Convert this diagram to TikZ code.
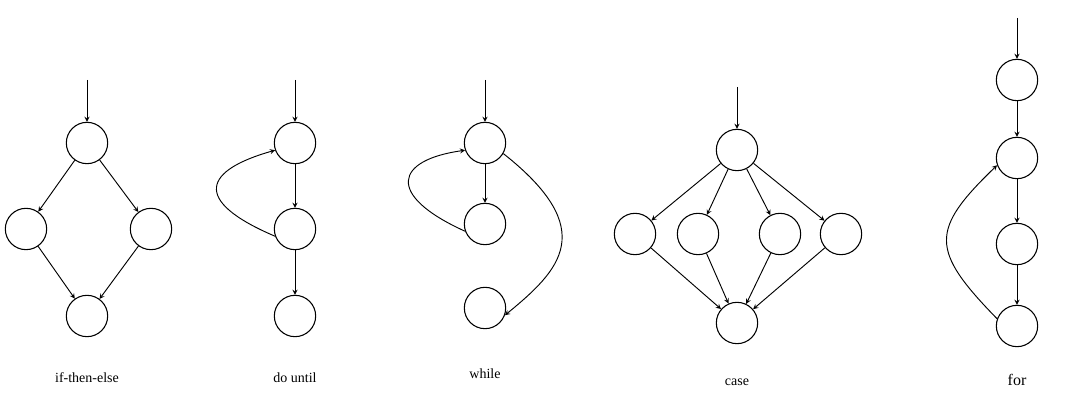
\documentclass[tikz,border=0pt]{standalone}
\usepackage{fontspec}
\setmainfont{Liberation Serif}
\begin{document}
\begin{tikzpicture}[x=0.75pt,y=-0.75pt,
  st/.style={circle,draw,line width=0.8pt,minimum size=31pt,inner sep=0pt},
  ar/.style={->,>=stealth,line width=0.7pt},
  lb/.style={font=\fontsize{10.5pt}{12pt}\selectfont}]
\useasboundingbox (0,0) rectangle (1082,409);
% if-then-else
\node[st] (a1) at (87,143) {};
\node[st] (a2) at (26,229) {};
\node[st] (a3) at (151,229) {};
\node[st] (a4) at (87,316) {};
\coordinate (a0) at (87,80);
\draw[ar] (a0) -- (a1);
\draw[ar] (a1) -- (a2);
\draw[ar] (a1) -- (a3);
\draw[ar] (a2) -- (a4);
\draw[ar] (a3) -- (a4);
\node[lb] (la) at (87,378) {if-then-else};
% do until
\node[st] (b1) at (295,143) {};
\node[st] (b2) at (295,229) {};
\node[st] (b3) at (295,316) {};
\coordinate (b0) at (295,80);
\draw[ar] (b0) -- (b1);
\draw[ar] (b1) -- (b2);
\draw[ar] (b2) -- (b3);
\draw[ar] (b2.200) .. controls (190,200) and (205,170) .. (b1.200);
\node[lb] (lb1) at (295,378) {do until};
% while
\node[st] (c1) at (485,143) {};
\node[st] (c2) at (485,224) {};
\node[st] (c3) at (485,308) {};
\coordinate (c0) at (485,80);
\draw[ar] (c0) -- (c1);
\draw[ar] (c1) -- (c2);
\draw[ar] (c2.200) .. controls (385,195) and (395,160) .. (c1.200);
\draw[ar] (c1.-30) .. controls (600,230) and (560,270) .. (c3.-20);
\node[lb] (lc) at (485,374) {while};
% case
\node[st] (d1) at (737,150) {};
\node[st] (d2) at (635,234) {};
\node[st] (d3) at (698,234) {};
\node[st] (d4) at (780,234) {};
\node[st] (d5) at (841,234) {};
\node[st] (d6) at (737,323) {};
\coordinate (d0) at (737,87);
\draw[ar] (d0) -- (d1);
\foreach \n in {d2,d3,d4,d5}{\draw[ar] (d1) -- (\n); \draw[ar] (\n) -- (d6);}
\node[lb] (ld) at (737,382) {case};
% for
\node[st] (e1) at (1017,80) {};
\node[st] (e2) at (1017,158) {};
\node[st] (e3) at (1017,244) {};
\node[st] (e4) at (1017,326) {};
\coordinate (e0) at (1017,18);
\draw[ar] (e0) -- (e1);
\draw[ar] (e1) -- (e2);
\draw[ar] (e2) -- (e3);
\draw[ar] (e3) -- (e4);
\draw[ar] (e4.160) .. controls (930,250) and (930,230) .. (e2.200);
\node[font=\fontsize{12pt}{14pt}\selectfont] (le) at (1017,380) {for};
\end{tikzpicture}
\end{document}
